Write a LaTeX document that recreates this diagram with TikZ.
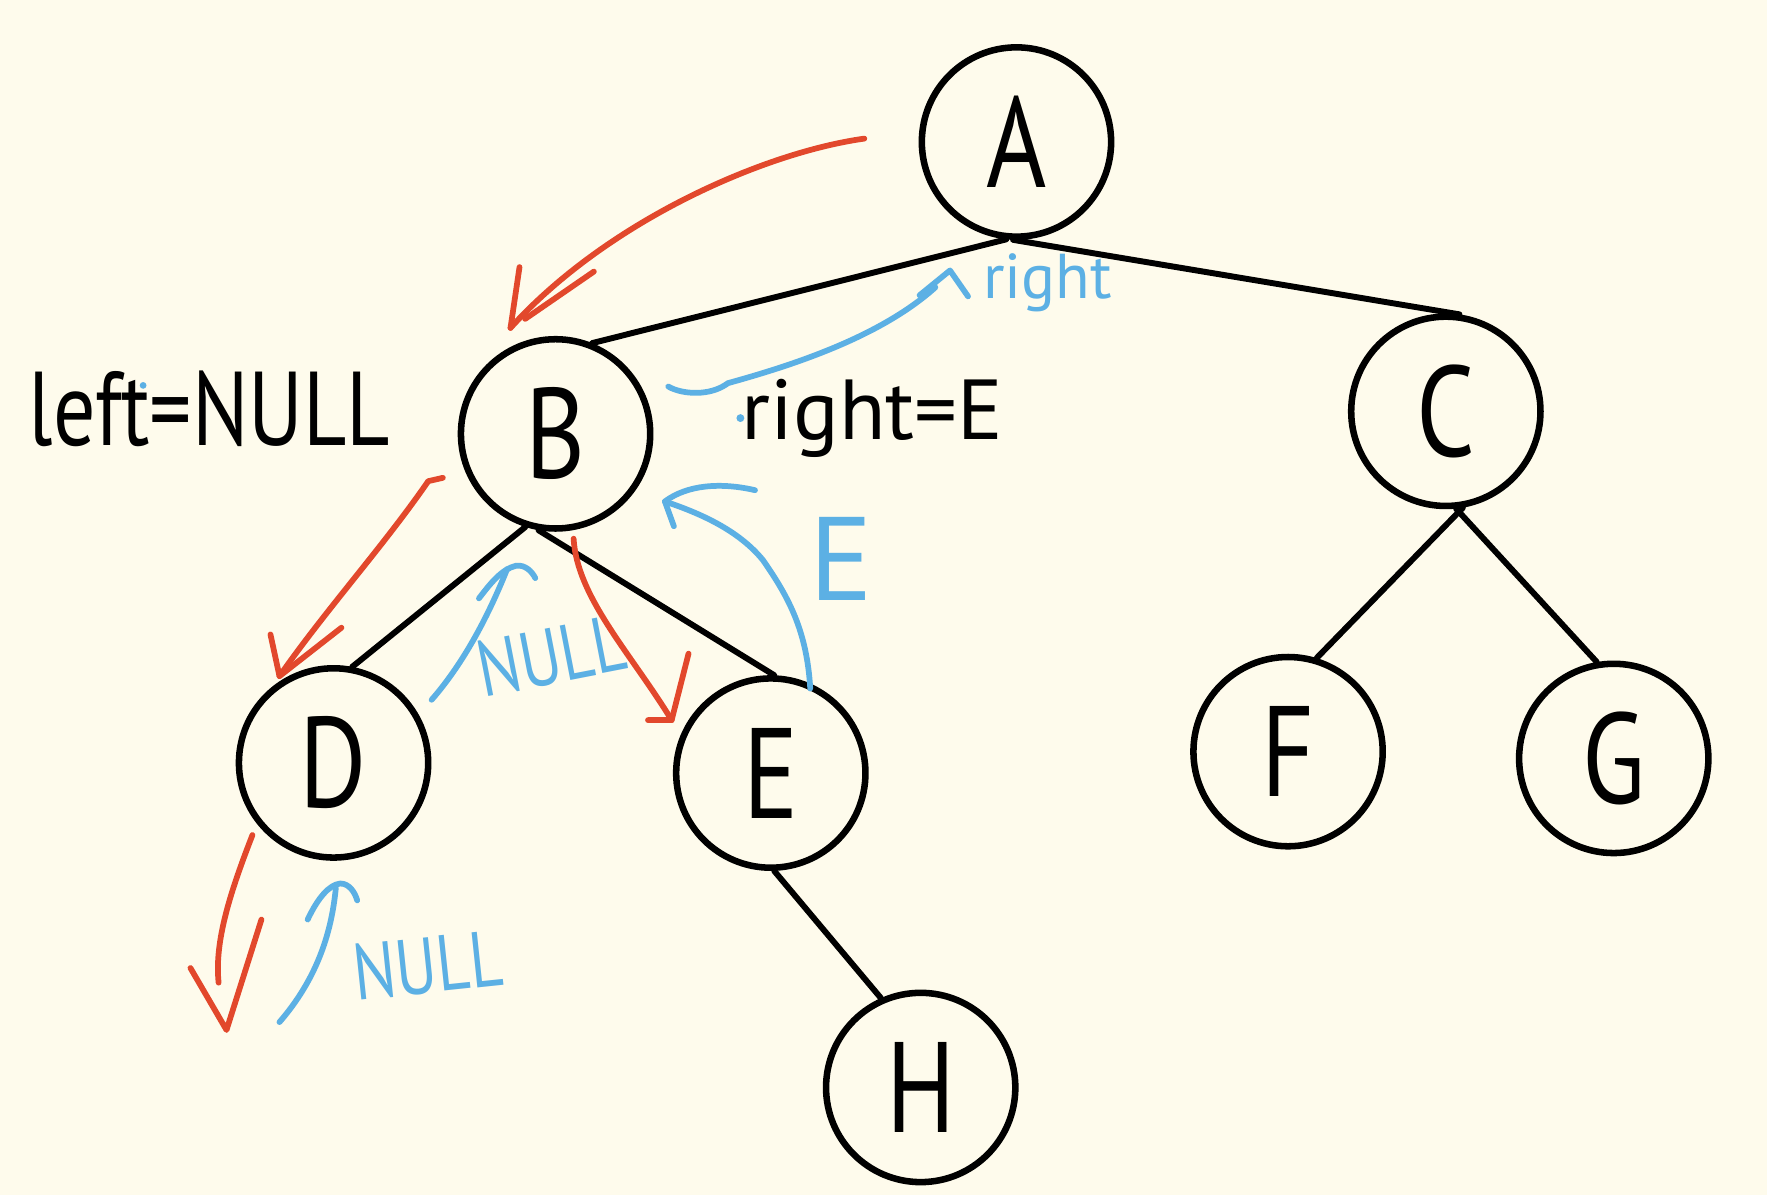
\documentclass[tikz,border=0pt]{standalone}
\usepackage{fontspec}
\setmainfont{PT Sans}
\newfontfamily\hand[FakeStretch=0.8]{PT Sans}
\newfontfamily\handw{PT Sans}
\newcommand\myfs[1]{\fontsize{#1}{#1}\selectfont}
\usetikzlibrary{arrows.meta}
\definecolor{bgc}{RGB}{254,251,236}
\definecolor{pred}{RGB}{226,72,44}
\definecolor{pblue}{RGB}{92,176,228}
\begin{document}
\begin{tikzpicture}[x=0.02cm,y=-0.02cm,
  tnode/.style={circle,draw=black,line width=3.3pt,minimum size=3.36cm,inner sep=0pt,font=\hand\myfs{65pt}},
  tedge/.style={draw=black,line width=3pt,line cap=round},
  redpen/.style={draw=pred,line width=2.9pt,line cap=round,line join=round},
  bluepen/.style={draw=pblue,line width=2.9pt,line cap=round,line join=round},
  blacktext/.style={text=black,inner sep=0pt},
  bluetext/.style={text=pblue,inner sep=0pt}]
\fill[bgc] (0,0) rectangle (1568,1060);
\useasboundingbox (0,0) rectangle (1568,1060);

% tree nodes
\node[tnode] (A) at (902,126) {A};
\node[tnode] (B) at (493,385) {B};
\node[tnode] (C) at (1283,365) {C};
\node[tnode] (D) at (296,677) {D};
\node[tnode] (E) at (684,686) {E};
\node[tnode] (F) at (1143,667) {F};
\node[tnode] (G) at (1432,673) {G};
\node[tnode] (H) at (817,965) {H};

% tree edges
\draw[tedge] (A.-96) -- (B.68);
\draw[tedge] (A.-92) -- (C.82);
\draw[tedge] (B.-108) -- (D.79);
\draw[tedge] (B.-100) -- (E.88);
\draw[tedge] (C.-80) -- (F.73);
\draw[tedge] (C.-84) -- (G.100);
\draw[tedge] (E.-88) -- (H.114);

% black texts
\node[blacktext,font=\hand\myfs{53pt},anchor=base west] (lnull) at (25,395) {left=NULL};
\node[blacktext,font=\handw\myfs{43pt},anchor=base west] (rgte) at (658,390) {right=E};

% blue texts
\node[bluetext,font=\handw\myfs{32pt},anchor=base west] (bright) at (872,265) {right};
\node[bluetext,font=\handw\myfs{60pt}] (be) at (747,496) {E};
\node[bluetext,font=\hand\myfs{40pt},anchor=base,rotate=11] (bnull1) at (494,606) {NULL};
\node[bluetext,font=\hand\myfs{40pt},anchor=base,rotate=6] (bnull2) at (382,881) {NULL};

% stray blue pen dots
\fill[pblue] (127,342) circle (3);
\fill[pblue] (657,371) circle (3.5);

% red arrow 1 (to B)
\coordinate (r1s) at (767,123);
\coordinate (r1t) at (453,291);
\draw[redpen] (r1s) .. controls (680,135) and (540,195) .. (r1t);
\draw[redpen] (461,237) -- (r1t);
\draw[redpen] (527,241) -- (466,283);

% red arrow 2 (B to D)
\coordinate (r2s) at (393,424);
\coordinate (r2t) at (248,600);
\draw[redpen] (r2s) -- (380,427) .. controls (340,485) and (290,540) .. (r2t);
\draw[redpen] (240,563) -- (r2t) -- (303,557);

% red arrow 3 (B to E)
\coordinate (r3s) at (509,478);
\coordinate (r3t) at (596,639);
\draw[redpen] (r3s) .. controls (512,530) and (560,580) .. (r3t);
\draw[redpen] (575,639) -- (r3t) -- (611,580);

% red arrow 4 (below D)
\coordinate (r4s) at (224,741);
\coordinate (r4t) at (201,914);
\draw[redpen] (r4s) .. controls (205,790) and (190,835) .. (194,872);
\draw[redpen] (169,859) -- (r4t) -- (232,816);

% blue arrow "right" (B to A)
\coordinate (b1s) at (593,343);
\coordinate (b1t) at (843,240);
\draw[bluepen] (b1s) .. controls (605,350) and (630,352) .. (646,340)
  .. controls (700,325) and (780,300) .. (830,255);
\draw[bluepen] (816,262) -- (b1t) -- (859,263);

% blue arrow E to B
\coordinate (b2s) at (719,611);
\coordinate (b2t) at (590,445);
\draw[bluepen] (b2s) .. controls (716,560) and (700,530) .. (677,497)
  .. controls (655,470) and (620,455) .. (b2t);
\draw[bluepen] (598,467) -- (b2t) .. controls (610,430) and (640,428) .. (670,435);

% blue arrow D to B (middle NULL)
\coordinate (b3s) at (383,621);
\coordinate (b3t) at (450,505);
\draw[bluepen] (b3s) .. controls (410,590) and (432,550) .. (b3t);
\draw[bluepen] (425,531) .. controls (435,518) and (445,505) .. (458,502) .. controls (466,501) and (472,507) .. (475,513);

% blue arrow bottom NULL
\coordinate (b4s) at (248,907);
\coordinate (b4t) at (298,788);
\draw[bluepen] (b4s) .. controls (280,870) and (294,830) .. (b4t);
\draw[bluepen] (273,816) .. controls (282,797) and (292,785) .. (302,784) .. controls (310,784) and (315,792) .. (317,799);
\end{tikzpicture}
\end{document}
